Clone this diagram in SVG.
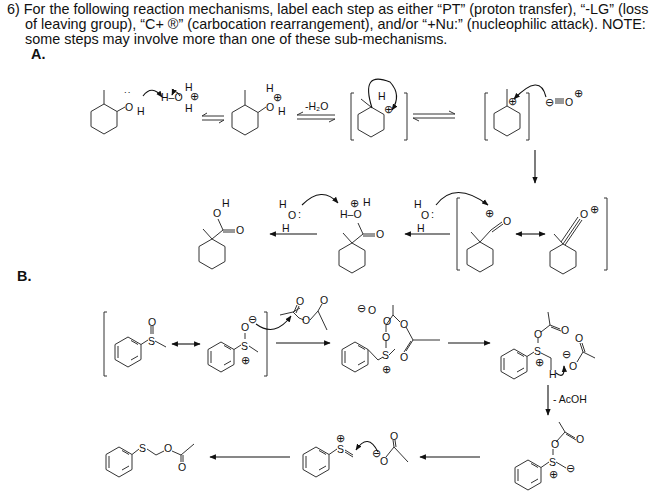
<svg xmlns="http://www.w3.org/2000/svg" width="671" height="504" viewBox="0 0 671 504">
<style>
text{font-family:"Liberation Sans",Arial,sans-serif;fill:#111}
.h{font-size:14.4px}
.t{font-size:10.5px}
.c{font-size:11px}
.b{stroke:#333;stroke-width:1;fill:none}
.a{stroke:#111;stroke-width:1.1;fill:none}
</style>
<defs>
<path id="hx" d="M0,-15L13,-7.5L13,7.5L0,15L-13,7.5L-13,-7.5Z" class="b"/>
<g id="bz"><use href="#hx"/><path d="M3,-11.5L10,-7.5M10,4L3,8M-10,6L-10,-6" class="b"/></g>
<marker id="m" viewBox="0 0 10 10" refX="9" refY="5" markerWidth="6" markerHeight="6" orient="auto"><path d="M0,1L10,5L0,9Z" fill="#111"/></marker>
<marker id="ms" viewBox="0 0 10 10" refX="1" refY="5" markerWidth="6" markerHeight="6" orient="auto"><path d="M10,1L0,5L10,9Z" fill="#111"/></marker>
</defs>
<rect width="671" height="504" fill="#fff"/>
<text class="h" x="7" y="14">6)  For the following reaction mechanisms, label each step as either “PT” (proton transfer), “-LG” (loss</text>
<text class="h" x="25" y="29">of leaving group), “C+ ®” (carbocation rearrangement), and/or “+Nu:” (nucleophilic attack). NOTE:</text>
<text class="h" x="25" y="44">some steps may involve more than one of these sub-mechanisms.</text>
<text class="h" x="31" y="59" font-weight="bold">A.</text>
<text class="h" x="17" y="281" font-weight="bold">B.</text>

<g id="a1"><use href="#hx" x="104" y="119"/><path d="M104,104V90M117,111.5L125,107" class="b"/>
<text class="t" x="125" y="111">O</text><text class="t" x="137" y="115">H</text><text class="c" x="124" y="100">˙˙</text>
<text class="t" x="161" y="101">H–O</text><text class="t" x="185" y="91">H</text><text class="t" x="185" y="112">H</text><text class="c" x="190" y="100">⊕</text></g>
<g id="a2"><use href="#hx" x="245" y="120"/><path d="M245,105V90M258,112.5L266,107" class="b"/>
<text class="t" x="266" y="111">O</text><text class="t" x="266" y="92">H</text><text class="c" x="273" y="101">⊕</text><text class="t" x="278" y="115">H</text></g>
<text class="t" x="305" y="110">-H₂O</text>
<g id="a3"><path d="M354,93h-3v47h3M404,93h3v47h-3" class="b"/><use href="#hx" x="371" y="122"/><path d="M371,107L361,99" class="b"/>
<text class="t" x="378" y="100">H</text><text class="c" x="384" y="113">⊕</text></g>
<g id="a4"><path d="M488,93h-3v47h3M526,93h3v47h-3" class="b"/><use href="#hx" x="507" y="121"/><path d="M507,106V89" class="b"/><text class="c" x="508" y="105">⊕</text>
<text class="c" x="545" y="106">⊖</text><path d="M555,99h9M555,101h9M555,103h9" class="b"/><text class="t" x="565" y="106">O</text><text class="c" x="574" y="97">⊕</text></g>

<g id="r1"><use href="#hx" x="212" y="254"/><path d="M212,239L203,229M212,239L223,230L235,230M223,232L235,232M223,230L218,219" class="b"/>
<text class="t" x="236" y="234">O</text><text class="t" x="213" y="217">O</text><text class="t" x="222" y="207">H</text></g>
<g id="w1"><text class="t" x="279" y="208">H</text><text class="t" x="288" y="219">O</text><text class="t" x="282" y="232">H</text><text class="c" x="298" y="218">:</text></g>
<g id="r2"><use href="#hx" x="352" y="258"/><path d="M352,243L343,233M352,243L363,234L375,234M363,236L375,236M363,234L358,223" class="b"/>
<text class="t" x="376" y="238">O</text><text class="t" x="340" y="218">H–O</text><text class="c" x="350" y="207">⊕</text><text class="t" x="363" y="206">H</text></g>
<g id="w2"><text class="t" x="414" y="208">H</text><text class="t" x="421" y="219">O</text><text class="t" x="417" y="232">H</text><text class="c" x="431" y="218">:</text></g>
<g id="r3"><path d="M460,198h-3v72h3M604,198h3v72h-3" class="b"/><use href="#hx" x="480" y="257"/><path d="M480,242L471,232M480,242L491,230L502,222M492,232L503,224" class="b"/>
<text class="c" x="485" y="217">⊕</text><text class="t" x="503" y="225">O</text>
<use href="#hx" x="563" y="259"/><path d="M563,244L554,234M563,244L580,219M561,242L578,217M565,245L582,220" class="b"/>
<text class="t" x="580" y="218">O</text><text class="c" x="590" y="213">⊕</text></g>

<g id="b1"><path d="M107,312h-3v64h3M264,312h3v64h-3" class="b"/><use href="#bz" x="128" y="352"/><path d="M141,344.5L148,340M155,341L166,347M151,334V326M153,334V326" class="b"/>
<text class="t" x="148" y="345">S</text><text class="t" x="148" y="326">O</text>
<use href="#bz" x="221" y="357"/><path d="M234,349.5L241,345M249,346L258,352M245,339V333" class="b"/>
<text class="t" x="241" y="350">S</text><text class="t" x="241" y="331">O</text><text class="c" x="248" y="323">⊖</text><text class="c" x="241" y="364">⊕</text></g>
<g id="b2"><path d="M280,315L293,312L300,308M293,312L299,318L304,320M294,312L297,305M296,313L299,306M310,320L318,311L327,330M318,311L322,304" class="b"/>
<text class="t" x="296" y="305">O</text><text class="t" x="302" y="324">O</text><text class="t" x="320" y="304">O</text></g>
<g id="b3"><use href="#bz" x="355" y="357"/><path d="M368,349.5L378,360L383,357M389,355L395,349M386,348V340M386,332V325L393,315L400,322M393,315L393,305M406,327L413,340L440,340M413,340L406,351M411,341L404,352" class="b"/>
<text class="t" x="382" y="359">S</text><text class="t" x="382" y="341">O</text><text class="t" x="383" y="325">O</text><text class="t" x="368" y="314">O</text><text class="c" x="357" y="312">⊖</text><text class="t" x="400" y="328">O</text><text class="t" x="400" y="361">O</text><text class="c" x="382" y="373">⊕</text></g>
<g id="b4"><use href="#bz" x="514" y="364"/><path d="M527,356.5L534,352M541,353L551,358V370M538,343V338M541,332L550,325L548,312M550,325L560,329M551,327L561,331M577,362L583,352L595,358M583,352L580,343M585,352L582,343" class="b"/>
<text class="t" x="534" y="355">S</text><text class="t" x="534" y="338">O</text><text class="t" x="561" y="334">O</text><text class="c" x="535" y="366">⊕</text>
<text class="t" x="549" y="378">H</text><text class="c" x="562" y="358">⊖</text><text class="t" x="569" y="370">O</text><text class="t" x="575" y="342">O</text></g>
<text class="t" x="553" y="403">- AcOH</text>
<g id="b5"><use href="#bz" x="528" y="475"/><path d="M541,467.5L549,462M556,462L566,468M553,455V449M556,442L565,432L559,422M565,432L575,438M566,434L576,440" class="b"/>
<text class="t" x="549" y="466">S</text><text class="t" x="551" y="448">O</text><text class="t" x="576" y="443">O</text><text class="c" x="549" y="478">⊕</text><text class="c" x="566" y="472">⊖</text></g>
<g id="b6"><use href="#bz" x="316" y="462"/><path d="M329,454.5L337,449M345,450L353,455M345,452L353,457M386,457L394,447L408,462M394,447L393,440M396,447L395,440" class="b"/>
<text class="t" x="337" y="453">S</text><text class="c" x="336" y="442">⊕</text><text class="c" x="372" y="457">⊖</text><text class="t" x="380" y="465">O</text><text class="t" x="390" y="440">O</text></g>
<g id="b7"><use href="#bz" x="119" y="462"/><path d="M132,454.5L139,449M147,449L156,455L164,451M172,451L181,455L194,444M181,455L181,462M183,455L183,462" class="b"/>
<text class="t" x="139" y="452">S</text><text class="t" x="164" y="452">O</text><text class="t" x="178" y="471">O</text></g>

<g id="connectors">
<path d="M202,116h22M202,120h22" class="b"/><path d="M202,116l5,-3M224,120l-5,3" class="b"/>
<path d="M297,115h38M297,119h38" class="b"/><path d="M297,115l6,-3M335,119l-6,3" class="b"/>
<path d="M413,114h42M413,118h42" class="b"/><path d="M455,114l-6,-3M413,118l6,3" class="b"/>
<path d="M535,150V183" class="a" marker-end="url(#m)"/>
<path d="M317,234H270" class="a" marker-end="url(#m)"/>
<path d="M450,234H405" class="a" marker-end="url(#m)"/>
<path d="M516,234H545" class="a" marker-start="url(#ms)" marker-end="url(#m)"/>
<path d="M172,344H200" class="a" marker-start="url(#ms)" marker-end="url(#m)"/>
<path d="M276,343H330" class="a" marker-end="url(#m)"/>
<path d="M448,343H490" class="a" marker-end="url(#m)"/>
<path d="M548,385V415" class="a" marker-end="url(#m)"/>
<path d="M480,457H420" class="a" marker-end="url(#m)"/>
<path d="M290,457H210" class="a" marker-end="url(#m)"/>
<path d="M143,96Q152,84 162,97" class="a" marker-end="url(#m)"/>
<path d="M180,96Q175,88 172,95" class="a" marker-end="url(#m)"/>
<path d="M372,108Q360,70 390,82Q402,95 392,110" class="a" marker-end="url(#m)"/>
<path d="M546,97Q540,72 514,99" class="a" marker-end="url(#m)"/>
<path d="M302,205Q322,185 338,203" class="a" marker-end="url(#m)"/>
<path d="M436,205Q455,180 488,205" class="a" marker-end="url(#m)"/>
<path d="M256,324Q275,338 291,316" class="a" marker-end="url(#m)"/>
<path d="M556,373Q565,380 564,366" class="a" marker-end="url(#m)"/>
<path d="M378,452Q368,432 356,450" class="a" marker-end="url(#m)"/>
</g>
</svg>
